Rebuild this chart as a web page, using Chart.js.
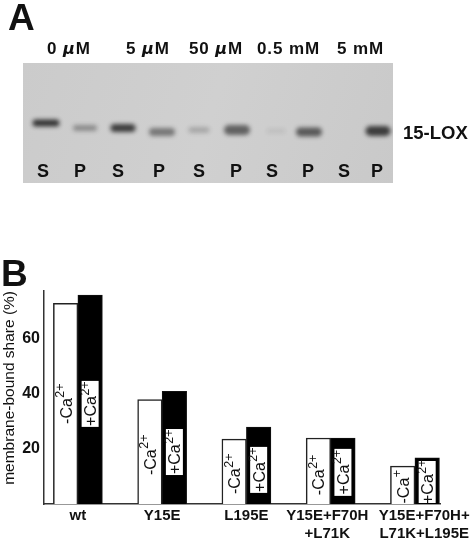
<!DOCTYPE html>
<html>
<head>
<meta charset="utf-8">
<style>
    html, body { margin: 0; padding: 0; background: #fff; }
    body { position: relative; width: 474px; height: 543px; overflow: hidden; font-family: "Liberation Sans", Arial, sans-serif; color: #111; }
    canvas { position: absolute; left: 0; }
    #gelChart { top: 0; }
    #barChart { top: 250px; }
    .txt { position: absolute; font-weight: bold; white-space: nowrap; line-height: 1; }
    .panel { font-size: 37px; }
    .conc { font-size: 17px; letter-spacing: 0.9px; top: 40px; }
    .conc i { font-family: "DejaVu Sans"; font-size: 16px; }
</style>
</head>
<body>
<canvas id="gelChart" width="474" height="220"></canvas>
<canvas id="barChart" width="474" height="293"></canvas>
<div class="txt panel" style="left:8px;top:-1px">A</div>
<div class="txt panel" style="left:1px;top:255px">B</div>
<div class="txt" style="left:403px;top:124px;font-size:18.5px">15-LOX</div>
<script src="https://cdn.jsdelivr.net/npm/chart.js@4"></script>
<script>
// Panel A: gel lanes
const concLabels = [['0 ', 'M', 47], ['5 ', 'M', 126], ['50 ', 'M', 189], ['0.5 mM', '', 257], ['5 mM', '', 337]];
const laneLabels = ['S', 'P', 'S', 'P', 'S', 'P', 'S', 'P', 'S', 'P'];
const laneTicks = [20, 57, 95, 136, 176, 213, 249, 285, 321, 354];
const bandPosition = [23, 62, 100, 139, 176, 214, 253, 286, 321, 355];
const bandMigration = [60, 65, 65, 69, 67, 67, 68, 69, 69, 68];
const bandIntensity = [0.85, 0.36, 0.8, 0.48, 0.22, 0.6, 0.08, 0.64, 0, 0.8];
const bandWidths = [27, 24, 25, 26, 21, 26, 19, 26, 1, 25];
const bandHeights = [7, 6, 8, 8, 6, 10, 5, 9, 1, 10];

// Panel B: membrane-bound share (%)
const mutants = ['wt', 'Y15E', 'L195E', ['Y15E+F70H', '+L71K'], ['Y15E+F70H+', 'L71K+L195E']];
const mutantTicks = [0, 1, 2, 2.96, 4.11];
const withoutCa = [73, 38, 23.6, 24, 13.8];
const withCa = [76, 41, 28, 24, 16.8];
const yTicks = [20, 40, 60];

// where the rotated labels sit, in axis units
const labelMidWithout = [36.4, 17.8, 10.9, 10.5, 6.2];
const labelMidWith = [36.4, 18.9, 12.4, 11.5, 8];
const labelBoxHeight = [46, 46, 46, 47, 42];

const FONT = '"Liberation Sans", Arial, sans-serif';

concLabels.forEach(function(c) {
    const el = document.createElement('div');
    el.className = 'txt conc';
    el.style.left = c[2] + 'px';
    el.innerHTML = c[1] ? c[0] + '<i>\u03bc</i>' + c[1] : c[0];
    document.body.appendChild(el);
});

// soft blob for one band, used as the point image
function makeBand(width, height, intensity) {
    const c = document.createElement('canvas');
    c.width = width + 16;
    c.height = height + 16;
    const ctx = c.getContext('2d');
    ctx.filter = 'blur(2px)';
    ctx.fillStyle = 'rgba(25, 25, 25, ' + intensity + ')';
    ctx.beginPath();
    ctx.roundRect(8, 8, width, height, height / 2);
    ctx.fill();
    return c;
}

const gelBackground = {
    id: 'gelBackground',
    beforeDraw: function(chart) {
        const a = chart.chartArea;
        const g = chart.ctx.createLinearGradient(a.left, a.top, a.right, a.bottom);
        g.addColorStop(0, '#cbcbcb');
        g.addColorStop(0.5, '#d0d0d0');
        g.addColorStop(1, '#c9c9c9');
        chart.ctx.fillStyle = g;
        chart.ctx.fillRect(a.left, a.top, a.width, a.height);
    }
};

new Chart(document.getElementById('gelChart'), {
    type: 'scatter',
    data: {
        datasets: [{
            data: bandPosition.map((x, i) => ({ x: x, y: bandMigration[i] })),
            pointStyle: bandIntensity.map((v, i) => makeBand(bandWidths[i], bandHeights[i], v))
        }]
    },
    options: {
        responsive: false,
        animation: false,
        devicePixelRatio: 1,
        layout: { autoPadding: false, padding: { left: 23, right: 81, top: 63, bottom: 0 } },
        plugins: { legend: { display: false }, tooltip: { enabled: false } },
        scales: {
            x: {
                type: 'linear',
                min: 0,
                max: 370,
                border: { display: false },
                grid: { display: false, drawTicks: false },
                afterBuildTicks: function(axis) { axis.ticks = laneTicks.map(v => ({ value: v })); },
                afterFit: function(axis) { axis.height = 37; },
                ticks: {
                    autoSkip: false,
                    maxRotation: 0,
                    mirror: true,
                    padding: 0,
                    color: '#111',
                    font: { family: FONT, size: 18, weight: 'bold' },
                    callback: function(value, index) { return laneLabels[index]; }
                }
            },
            y: {
                display: false,
                reverse: true,
                min: 0,
                max: 120
            }
        }
    },
    plugins: [gelBackground]
});

// -Ca2+ / +Ca2+ written up the bars
function drawCaLabel(ctx, x, y, sign, sup) {
    ctx.save();
    ctx.translate(x, y);
    ctx.rotate(-Math.PI / 2);
    ctx.fillStyle = '#111';
    ctx.textBaseline = 'alphabetic';
    ctx.textAlign = 'left';
    ctx.font = '16px ' + FONT;
    const main = sign + 'Ca';
    const mainW = ctx.measureText(main).width;
    ctx.font = '12.5px ' + FONT;
    const supW = ctx.measureText(sup).width;
    const start = -(mainW + supW) / 2;
    ctx.font = '16px ' + FONT;
    ctx.fillText(main, start, 6);
    ctx.font = '12.5px ' + FONT;
    ctx.fillText(sup, start + mainW + 0.5, -1.5);
    ctx.restore();
}

const caLabels = {
    id: 'caLabels',
    afterDatasetsDraw: function(chart) {
        const ctx = chart.ctx;
        const y = chart.scales.y;
        chart.getDatasetMeta(0).data.forEach(function(bar, i) {
            drawCaLabel(ctx, bar.x, y.getPixelForValue(labelMidWithout[i]), '-', i === 4 ? '+' : '2+');
        });
        chart.getDatasetMeta(1).data.forEach(function(bar, i) {
            const mid = y.getPixelForValue(labelMidWith[i]);
            ctx.fillStyle = '#fff';
            ctx.fillRect(bar.x - 8.5, mid - labelBoxHeight[i] / 2, 17, labelBoxHeight[i]);
            drawCaLabel(ctx, bar.x, mid, '+', '2+');
        });
    }
};

new Chart(document.getElementById('barChart'), {
    type: 'bar',
    data: {
        datasets: [{
            label: '-Ca2+',
            data: withoutCa.map((v, i) => ({ x: i, y: v })),
            backgroundColor: '#ffffff',
            borderColor: '#222222',
            borderWidth: 1.5,
            barThickness: 24.5
        }, {
            label: '+Ca2+',
            data: withCa.map((v, i) => ({ x: i, y: v })),
            backgroundColor: '#000000',
            borderColor: '#111111',
            borderWidth: 1,
            barThickness: 24.5
        }]
    },
    options: {
        responsive: false,
        animation: false,
        devicePixelRatio: 1,
        layout: { autoPadding: false, padding: { right: 32, top: 41, bottom: 0 } },
        plugins: { legend: { display: false }, tooltip: { enabled: false } },
        scales: {
            x: {
                type: 'linear',
                offset: false,
                min: -0.402,
                max: 4.308,
                border: { color: '#333', width: 1.5 },
                grid: { display: false, drawTicks: false },
                afterBuildTicks: function(axis) { axis.ticks = mutantTicks.map(v => ({ value: v })); },
                afterFit: function(axis) { axis.height = 39; },
                ticks: {
                    autoSkip: false,
                    maxRotation: 0,
                    padding: 3,
                    color: '#111',
                    font: { family: FONT, size: 15, weight: 'bold', lineHeight: 1.2 },
                    callback: function(value, index) { return mutants[index]; }
                }
            },
            y: {
                min: 0,
                max: 77.45,
                border: { color: '#333', width: 1.5 },
                grid: { display: false, drawOnChartArea: false, drawTicks: true, tickLength: 4, tickColor: '#333', tickWidth: 1.5 },
                afterBuildTicks: function(axis) { axis.ticks = yTicks.map(v => ({ value: v })); },
                afterFit: function(axis) { axis.width = 44; },
                title: {
                    display: true,
                    text: 'membrane-bound share (%)',
                    align: 'end',
                    color: '#111',
                    padding: 0,
                    font: { family: FONT, size: 15.5 }
                },
                ticks: {
                    padding: 0,
                    color: '#111',
                    font: { family: FONT, size: 16, weight: 'bold' }
                }
            }
        }
    },
    plugins: [caLabels]
});
</script>
</body>
</html>
